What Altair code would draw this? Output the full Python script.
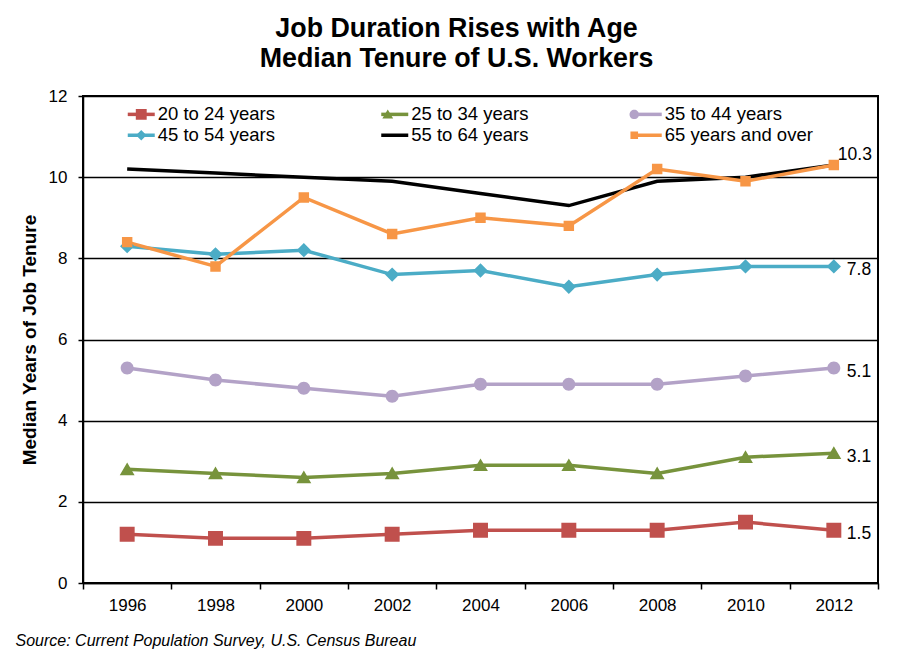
import altair as alt
import pandas as pd

years = ["1996", "1998", "2000", "2002", "2004", "2006", "2008", "2010", "2012"]
series = ["20 to 24 years", "25 to 34 years", "35 to 44 years",
          "45 to 54 years", "55 to 64 years", "65 years and over"]
values = {
    "20 to 24 years": [1.2, 1.1, 1.1, 1.2, 1.3, 1.3, 1.3, 1.5, 1.3],
    "25 to 34 years": [2.8, 2.7, 2.6, 2.7, 2.9, 2.9, 2.7, 3.1, 3.2],
    "35 to 44 years": [5.3, 5.0, 4.8, 4.6, 4.9, 4.9, 4.9, 5.1, 5.3],
    "45 to 54 years": [8.3, 8.1, 8.2, 7.6, 7.7, 7.3, 7.6, 7.8, 7.8],
    "55 to 64 years": [10.2, 10.1, 10.0, 9.9, 9.6, 9.3, 9.9, 10.0, 10.3],
    "65 years and over": [8.4, 7.8, 9.5, 8.6, 9.0, 8.8, 10.2, 9.9, 10.3],
}
colors = ["#C0504D", "#77933C", "#B3A2C7", "#4BACC6", "#000000", "#F79646"]

# end-of-line data labels
label_series = ["65 years and over", "45 to 54 years", "35 to 44 years",
                "25 to 34 years", "20 to 24 years"]
label_text = ["10.3", "7.8", "5.1", "3.1", "1.5"]

title_lines = ["Job Duration Rises with Age", "Median Tenure of U.S. Workers"]
y_title = "Median Years of Job Tenure"
source_text = "Source: Current Population Survey, U.S. Census Bureau"

# marker shapes in a unit box; the trailing segment is never stroked and only
# gives the marker legend the same extent as the line legend
pad = " M-3.375,0L3.375,0"
shapes = [
    "M-1.36,-1.36L1.36,-1.36L1.36,1.36L-1.36,1.36Z" + pad,
    "M0,-1.25L1.35,1.05L-1.35,1.05Z" + pad,
    "M1.18,0A1.18,1.18 0 1,1 -1.18,0A1.18,1.18 0 1,1 1.18,0Z" + pad,
    "M0,-1.3L1.3,0L0,1.3L-1.3,0Z" + pad,
    "M0,0" + pad,
    "M-0.95,-0.95L0.95,-0.95L0.95,0.95L-0.95,0.95Z" + pad,
]

rows = []
for s in series:
    for yr, v in zip(years, values[s]):
        rows.append({"series": s, "year": yr, "value": v})
df = pd.DataFrame(rows)

lab_rows = []
for s, t in zip(label_series, label_text):
    lab_rows.append({"series": s, "year": years[-1], "value": values[s][-1], "label": t})
lab_df = pd.DataFrame(lab_rows)

common_leg = dict(title=None, orient="none", legendX=49, legendY=9, columns=3,
                  direction="horizontal", columnPadding=98.5, rowPadding=2,
                  labelFontSize=18.5, labelOffset=7.25, padding=0,
                  labelColor="#000000")
line_leg = alt.Legend(symbolType="M-3,0L3,0", symbolSize=81,
                      symbolStrokeWidth=3.5, **common_leg)
point_leg = alt.Legend(symbolSize=64, symbolStrokeWidth=0, labelOpacity=0,
                       **common_leg)

x = alt.X("year:N", sort=years,
          scale=alt.Scale(type="band", paddingInner=0, paddingOuter=0),
          axis=alt.Axis(title=source_text, labelAngle=0, tickBand="extent",
                        labelFontSize=17, labelColor="#000000", labelPadding=8,
                        tickSize=6, tickColor="#000000", tickWidth=1.5,
                        domainColor="#000000", domainWidth=1.5,
                        titleFontStyle="italic", titleFontWeight="normal",
                        titleFontSize=16, titleColor="#000000",
                        titleX=-68, titleY=57, titleAlign="left",
                        titleBaseline="middle", titleAnchor="start"))
y = alt.Y("value:Q",
          scale=alt.Scale(domain=[0, 12], nice=False, zero=True),
          axis=alt.Axis(title=y_title, values=[0, 2, 4, 6, 8, 10, 12],
                        labelFontSize=17, labelColor="#000000", labelPadding=11,
                        tickSize=5, tickColor="#000000", tickWidth=1.5,
                        domainColor="#000000", domainWidth=1.5,
                        grid=True, gridColor="#000000", gridWidth=1.5,
                        titleFontSize=19, titleFontWeight="bold",
                        titleColor="#000000", titlePadding=9))

color_scale = alt.Scale(domain=series, range=colors)

lines = alt.Chart(df).mark_line(strokeWidth=3.5).encode(
    x=x, y=y,
    color=alt.Color("series:N", scale=color_scale, legend=line_leg),
    detail="series:N",
)

points = alt.Chart(df).mark_point(filled=True, opacity=1, strokeWidth=0).encode(
    x=x, y=y,
    color=alt.Color("series:N", scale=color_scale, legend=point_leg),
    shape=alt.Shape("series:N", scale=alt.Scale(domain=series, range=shapes),
                    legend=point_leg),
    size=alt.value(121),
)

lab_top = alt.Chart(lab_df).transform_filter(
    alt.datum.series == "65 years and over"
).mark_text(align="left", baseline="middle", dx=4, dy=-10, fontSize=17.5,
            color="#000000").encode(x=x, y=y, text="label:N")

lab_side = alt.Chart(lab_df).transform_filter(
    alt.datum.series != "65 years and over"
).mark_text(align="left", baseline="middle", dx=13, dy=4, fontSize=17.5,
            color="#000000").encode(x=x, y=y, text="label:N")

chart = alt.layer(lines, points, lab_top, lab_side).resolve_legend(
    color="independent", shape="independent"
).properties(
    width=795, height=487,
    autosize=alt.AutoSizeParams(type="none"),
    padding={"left": 75, "top": 88, "right": 25, "bottom": 70},
    title=alt.Title(title_lines, fontSize=26.8, fontWeight="bold", color="#000000",
                    anchor="middle", frame="group", dx=-24, offset=14.5,
                    lineHeight=30),
).configure(
    font="Liberation Sans",
).configure_view(
    stroke="#000000", strokeWidth=2,
)

chart.save("out.html", embed_options={"renderer": "svg", "actions": False})
